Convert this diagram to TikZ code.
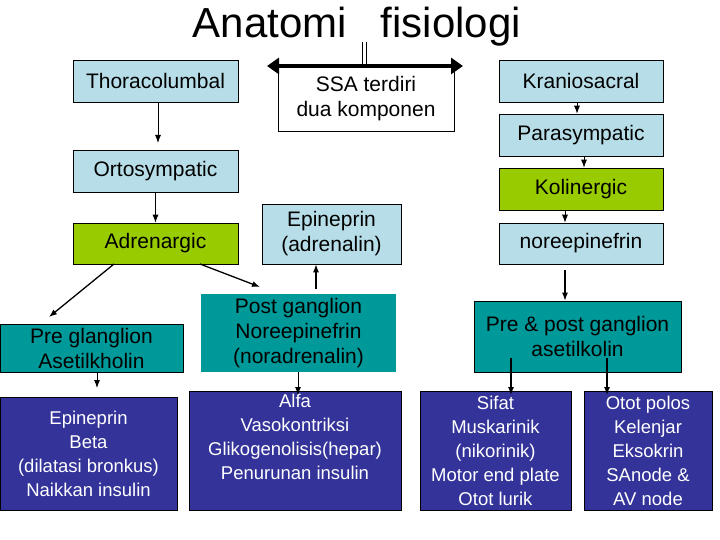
\documentclass[tikz,border=0pt]{standalone}
\usepackage{fontspec}
\setmainfont{Liberation Sans}
\usetikzlibrary{arrows.meta}
\definecolor{lb}{HTML}{B7DEE8}
\definecolor{gr}{HTML}{99CC00}
\definecolor{tl}{HTML}{009999}
\definecolor{bl}{HTML}{333399}
\begin{document}
\begin{tikzpicture}[x=1pt,y=-1pt,
 box/.style={draw=black,line width=0.6pt,inner sep=0pt,align=center,font=\fontsize{21}{25}\selectfont},
 lbox/.style={box,fill=lb},
 gbox/.style={box,fill=gr},
 tbox/.style={box,fill=tl,draw=black},
 bbox/.style={box,fill=bl,text=white,font=\fontsize{18.5}{24}\selectfont},
 arr/.style={-{Latex[length=8pt,width=6pt]},line width=0.9pt}]
\useasboundingbox (0,0) rectangle (720,540);
\node (title) at (357,27) {\fontsize{42}{44}\selectfont Anatomi\hspace{34pt}fisiologi};
\node[lbox,minimum width=165,minimum height=42] (thor) at (155.5,81) {Thoracolumbal};
\node[box,fill=white,minimum width=176,minimum height=65] (ssa) at (366,98.5) {SSA terdiri\\dua komponen};
\node[lbox,minimum width=164,minimum height=42] (kran) at (581,81) {Kraniosacral};
\node[lbox,minimum width=164,minimum height=42] (para) at (581,135) {Parasympatic};
\node[gbox,minimum width=164,minimum height=42] (kol) at (581,189) {Kolinergic};
\node[lbox,minimum width=164,minimum height=41] (nore) at (581,243.5) {noreepinefrin};
\node[lbox,minimum width=165,minimum height=42] (orto) at (155.5,171) {Ortosympatic};
\node[gbox,minimum width=165,minimum height=41] (adr) at (155.5,243.5) {Adrenargic};
\node[lbox,minimum width=139,minimum height=60] (epi) at (331.5,234) {Epineprin\\(adrenalin)};
\node[tbox,minimum width=183,minimum height=48] (pre) at (91.5,348) {Pre glanglion\\Asetilkholin};
\node[tbox,draw=none,minimum width=195,minimum height=78] (post) at (298.5,333) {Post ganglion\\Noreepinefrin\\(noradrenalin)};
\node[tbox,minimum width=207,minimum height=71] (pp) at (577.5,336.5) {Pre \& post ganglion\\asetilkolin};
\node[bbox,minimum width=177,minimum height=113] (eb) at (88.5,453.5) {Epineprin\\Beta\\(dilatasi bronkus)\\Naikkan insulin};
\node[bbox,minimum width=212,minimum height=119] (alfa) at (295,450.5) {Alfa\\Vasokontriksi\\Glikogenolisis(hepar)\\Penurunan insulin\\[4pt]};
\node[bbox,minimum width=151,minimum height=119] (sifat) at (495.5,450.5) {Sifat\\Muskarinik\\(nikorinik)\\Motor end plate\\Otot lurik};
\node[bbox,minimum width=128,minimum height=119] (otot) at (648,450.5) {Otot polos\\Kelenjar\\Eksokrin\\SAnode \&\\AV node};
% title line and double arrow
\coordinate (t0) at (362.5,42); \coordinate (tl) at (362.5,64);
\coordinate (u0) at (366,42); \coordinate (ul) at (366,64);
\draw[line width=1pt] (t0) -- (tl);
\draw[line width=1pt] (u0) -- (ul);
\coordinate (al) at (267,66); \coordinate (ar) at (463,66);
\draw[{Triangle[length=12pt,width=16pt]}-{Triangle[length=12pt,width=16pt]},line width=4.5pt] (al) -- (ar);
% connectors
\coordinate (o1) at (158,143);
\draw[arr] (thor.south -| o1) -- (o1);
\draw[arr] (orto.south) -- (adr.north);
\draw[arr] (kran.south -| 577,0) -- (para.north -| 577,0);
\draw[arr] (para.south -| 584,0) -- (kol.north -| 584,0);
\draw[arr] (kol.south -| 565,0) -- (nore.north -| 565,0);
\coordinate (a1) at (114,264); \coordinate (a2) at (49,317);
\draw[arr,line width=1.3pt] (a1) -- (a2);
\coordinate (b1) at (200,264); \coordinate (b2) at (260,287);
\draw[arr,line width=1.3pt] (b1) -- (b2);
\coordinate (c1) at (316,289);
\draw[arr,line width=1.3pt] (c1) -- (epi.south -| c1);
\coordinate (n1) at (565,270);
\draw[arr,line width=1.3pt] (n1) -- (pp.north -| n1);
\coordinate (d1) at (97,388);
\draw[arr] (pre.south -| d1) -- (d1);
\coordinate (e1) at (298,395);
\draw[arr] (post.south -| e1) -- (e1);
\coordinate (f1) at (511,395); \coordinate (f0) at (511,358);
\draw[arr,line width=1.3pt] (f0) -- (f1);
\coordinate (g1) at (607,395); \coordinate (g0) at (607,358);
\draw[arr,line width=1.3pt] (g0) -- (g1);
\end{tikzpicture}
\end{document}
